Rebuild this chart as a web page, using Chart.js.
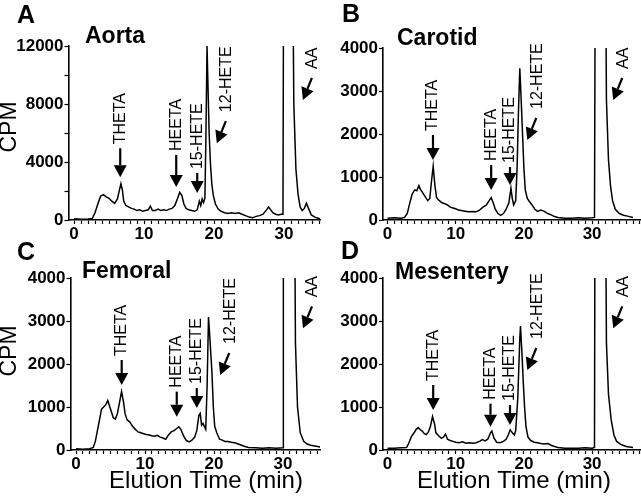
<!DOCTYPE html>
<html>
<head>
<meta charset="utf-8">
<script src="https://cdn.jsdelivr.net/npm/chart.js@4.4.0/dist/chart.umd.min.js"></script>
<style>
  html, body { margin: 0; padding: 0; background: #fff; }
  #wrap { position: relative; width: 641px; height: 500px; overflow: hidden; }
  #wrap canvas { position: absolute; left: 0; top: 0; }
</style>
</head>
<body>
<div id="wrap">
  <canvas id="aorta" width="641" height="500"></canvas>
  <canvas id="carotid" width="641" height="500"></canvas>
  <canvas id="femoral" width="641" height="500"></canvas>
  <canvas id="mesentery" width="641" height="500"></canvas>
</div>
<script>
// Radio-HPLC traces, elution time (min) vs CPM

// A - Aorta
const aortaTime = [0, 1, 2, 2.6, 3.0, 3.4, 3.8, 4.2, 4.6, 5.0, 5.4, 5.8, 6.2, 6.5, 6.7, 6.9, 7.1, 7.4, 7.8, 8.2,
  8.6, 9.0, 9.4, 9.8, 10.2, 10.6, 10.9, 11.2, 11.6, 12.0, 12.4, 12.8, 13.2, 13.6, 14.0, 14.4, 14.8, 15.1, 15.4, 15.7,
  16.0, 16.4, 16.8, 17.2, 17.6, 17.9, 18.1, 18.3, 18.5, 18.7, 18.85, 19.0, 19.15, 19.3, 19.5, 19.7, 19.9, 20.2, 20.6, 21.0,
  21.5, 22.0, 22.5, 23.0, 23.5, 24.0, 24.5, 25.0, 25.5, 26.0, 26.5, 27.0, 27.5, 27.8, 28.1, 28.4, 28.8, 29.2, 29.6, 29.85,
  29.95, 31.2, 31.4, 31.7, 32.0, 32.3, 32.6, 32.9, 33.2, 33.5, 33.9, 34.4, 35.0, 35.5];
const aortaCpm = [80, 60, 70, 100, 500, 1100, 1650, 1750, 1600, 1500, 1300, 1150, 1450, 2100, 2500, 2100, 1300, 1000, 900, 800,
  750, 650, 700, 600, 650, 700, 950, 650, 650, 750, 650, 700, 650, 750, 800, 1000, 1500, 1900, 1700, 1100,
  800, 700, 650, 600, 700, 1300, 1000, 1450, 1200, 1500, 6000, 12000, 9000, 6000, 3800, 2400, 1700, 1100, 750, 600,
  500, 450, 500, 450, 500, 400, 300, 200, 150, 250, 300, 400, 700, 900, 700, 500, 400, 350, 400, 400,
  20000, 20000, 8000, 3500, 1800, 900, 650, 800, 1150, 800, 350, 200, 100, 80];

// B - Carotid
const carotidTime = [0, 1, 2, 2.5, 2.9, 3.2, 3.6, 4.0, 4.3, 4.6, 4.8, 5.1, 5.5, 5.9, 6.2, 6.45, 6.7, 6.95, 7.2, 7.6,
  8.0, 8.4, 8.8, 9.2, 9.6, 10.0, 10.4, 10.8, 11.2, 11.6, 12.0, 12.5, 13.0, 13.5, 14.0, 14.5, 14.9, 15.2, 15.5, 15.8,
  16.2, 16.6, 17.0, 17.4, 17.8, 18.1, 18.3, 18.5, 18.8, 19.0, 19.2, 19.4, 19.6, 19.8, 20.0, 20.2, 20.5, 20.8, 21.2, 21.6,
  22.0, 22.5, 23.0, 23.5, 24.0, 24.5, 25, 26, 27, 28, 29, 30, 30.35, 30.5, 31.9, 32.1, 32.4, 32.7, 33.0, 33.4,
  34.0, 34.6, 35.2, 36.0];
const carotidCpm = [40, 50, 40, 60, 150, 350, 600, 700, 680, 800, 720, 650, 550, 450, 500, 900, 1250, 800, 520, 450,
  400, 380, 350, 300, 280, 260, 230, 220, 210, 200, 190, 200, 190, 230, 300, 350, 450, 520, 400, 250,
  150, 110, 150, 250, 400, 740, 500, 350, 450, 1200, 2500, 3530, 2800, 2000, 1200, 700, 500, 430, 350, 250,
  200, 230, 200, 150, 120, 80, 60, 40, 40, 50, 40, 50, 60, 8000, 8000, 2800, 1400, 800, 450, 250,
  150, 110, 90, 60];

// C - Femoral
const femoralTime = [0, 1, 2, 2.5, 2.8, 3.1, 3.4, 3.7, 4.0, 4.3, 4.6, 4.8, 5.1, 5.4, 5.7, 6.0, 6.3, 6.6, 6.9, 7.1,
  7.4, 7.8, 8.2, 8.6, 9.0, 9.4, 9.8, 10.2, 10.6, 11.0, 11.4, 11.8, 12.2, 12.6, 13.0, 13.4, 13.8, 14.2, 14.6, 14.9,
  15.2, 15.6, 16.0, 16.4, 16.8, 17.2, 17.5, 17.8, 18.0, 18.2, 18.4, 18.6, 18.8, 19.0, 19.2, 19.4, 19.7, 19.9, 20.1, 20.4,
  20.8, 21.2, 21.6, 22.0, 22.5, 23.0, 23.5, 24.0, 24.5, 25, 26, 27, 28, 29, 30, 30.05, 31.6, 31.8, 32.1, 32.5,
  33.0, 33.5, 34.0, 35.0, 35.5];
const femoralCpm = [30, 20, 30, 60, 200, 450, 700, 950, 1000, 1050, 1150, 1050, 900, 750, 720, 850, 1100, 1360, 1100, 850,
  700, 650, 550, 480, 420, 400, 380, 360, 350, 330, 320, 340, 300, 280, 250, 350, 420, 450, 500, 540,
  480, 320, 220, 190, 230, 300, 450, 800, 850, 580, 620, 550, 480, 1500, 3090, 2600, 1800, 1000, 550, 400,
  250, 230, 200, 200, 180, 170, 140, 110, 80, 60, 50, 40, 50, 40, 50, 8000, 8000, 2500, 1000, 400,
  200, 140, 110, 80, 70];

// D - Mesentery
const mesenteryTime = [0, 1, 2, 2.8, 3.1, 3.5, 3.9, 4.2, 4.5, 4.8, 5.1, 5.4, 5.7, 6.0, 6.3, 6.6, 6.9, 7.1, 7.5, 7.9,
  8.2, 8.5, 8.8, 9.2, 9.6, 10.0, 10.5, 11.0, 11.5, 12.0, 12.5, 13.0, 13.5, 13.9, 14.3, 14.7, 15.1, 15.3, 15.6, 16.0,
  16.5, 17.0, 17.4, 17.7, 18.0, 18.3, 18.6, 18.8, 19.1, 19.4, 19.5, 19.7, 19.9, 20.1, 20.3, 20.6, 21.0, 21.5, 22.0, 22.5,
  23.0, 23.5, 24.0, 24.5, 25, 26, 27, 28, 29, 30, 30.35, 30.45, 31.9, 32.1, 32.4, 32.8, 33.2, 33.6, 34.2, 35.0,
  36.0];
const mesenteryCpm = [40, 40, 50, 60, 150, 310, 400, 480, 520, 470, 440, 380, 360, 420, 550, 780, 600, 400, 330, 270,
  300, 370, 250, 220, 200, 180, 170, 190, 160, 170, 160, 170, 200, 240, 210, 250, 400, 440, 280, 180,
  170, 200, 250, 350, 470, 400, 350, 450, 1200, 2600, 2880, 2300, 1600, 1000, 550, 300, 220, 180, 170, 150,
  140, 150, 110, 80, 60, 40, 40, 40, 50, 40, 60, 8000, 8000, 2500, 1300, 700, 350, 200, 130, 80,
  60];

// tick values
const xTickLabels = [0, 10, 20, 30];
const yTicksAorta = [0, 2000, 4000, 6000, 8000, 10000, 12000];
const yLabelsAorta = [0, 4000, 8000, 12000];
const yTicksSmall = [0, 1000, 2000, 3000, 4000];

// peak labels: arrow tip in data units
const aortaPeaks = [
  { label: 'THETA', t: 6.6, v: 2950, len: 29 },
  { label: 'HEETA', t: 14.6, v: 2280, len: 32 },
  { label: '15-HETE', t: 17.6, v: 1860, len: 20 },
  { label: '12-HETE', t: 20.4, v: 5300, diag: true },
  { label: 'AA', t: 32.7, v: 8280, diag: true }
];
const carotidPeaks = [
  { label: 'THETA', t: 6.67, v: 1395, len: 25 },
  { label: 'HEETA', t: 15.2, v: 700, len: 25 },
  { label: '15-HETE', t: 17.96, v: 814, len: 18 },
  { label: '12-HETE', t: 20.5, v: 1860, diag: true },
  { label: 'AA', t: 33.1, v: 2790, diag: true }
];
const femoralPeaks = [
  { label: 'THETA', t: 6.62, v: 1512, len: 25 },
  { label: 'HEETA', t: 14.6, v: 775, len: 25 },
  { label: '15-HETE', t: 17.5, v: 977, len: 20 },
  { label: '12-HETE', t: 20.9, v: 1745, diag: true },
  { label: 'AA', t: 32.9, v: 2830, diag: true }
];
const mesenteryPeaks = [
  { label: 'THETA', t: 6.7, v: 930, len: 25 },
  { label: 'HEETA', t: 15.1, v: 542, len: 23 },
  { label: '15-HETE', t: 17.96, v: 582, len: 20 },
  { label: '12-HETE', t: 20.5, v: 1860, diag: true },
  { label: 'AA', t: 33.1, v: 2830, diag: true }
];

const FONT = "'Liberation Sans', Arial, Helvetica, sans-serif";

function arrow(ctx, x0, y0, x1, y1) {
  const dx = x1 - x0, dy = y1 - y0;
  const d = Math.sqrt(dx * dx + dy * dy);
  const ux = dx / d, uy = dy / d;
  const bx = x1 - ux * 12, by = y1 - uy * 12;
  ctx.lineWidth = 2.2;
  ctx.beginPath();
  ctx.moveTo(x0, y0);
  ctx.lineTo(bx, by);
  ctx.stroke();
  ctx.beginPath();
  ctx.moveTo(x1, y1);
  ctx.lineTo(bx - uy * 6.5, by + ux * 6.5);
  ctx.lineTo(bx + uy * 6.5, by - ux * 6.5);
  ctx.closePath();
  ctx.fill();
}

function vText(ctx, str, x, y, align) {
  ctx.save();
  ctx.translate(x, y);
  ctx.rotate(-Math.PI / 2);
  ctx.textAlign = align;
  ctx.textBaseline = 'middle';
  ctx.fillText(str, 0, 0);
  ctx.restore();
}

// draws panel letter, title, axis titles and the peak arrows
const panelText = {
  id: 'panelText',
  afterDraw(chart, args, o) {
    const ctx = chart.ctx;
    const xs = chart.scales.x, ys = chart.scales.y;
    ctx.save();
    ctx.fillStyle = '#000';
    ctx.strokeStyle = '#000';
    ctx.textBaseline = 'alphabetic';
    ctx.textAlign = 'left';

    ctx.font = 'bold 25px ' + FONT;
    ctx.fillText(o.letter, o.letterPos[0], o.letterPos[1]);
    ctx.font = 'bold 23px ' + FONT;
    ctx.fillText(o.title, o.titlePos[0], o.titlePos[1]);

    if (o.cpmPos) {
      ctx.font = '23px ' + FONT;
      vText(ctx, 'CPM', o.cpmPos[0], o.cpmPos[1], 'center');
    }
    if (o.xTitlePos) {
      ctx.font = '24px ' + FONT;
      ctx.textAlign = 'center';
      ctx.fillText('Elution Time (min)', o.xTitlePos[0], o.xTitlePos[1]);
    }

    ctx.font = '16px ' + FONT;
    o.peaks.forEach(p => {
      const px = xs.getPixelForValue(p.t);
      const py = ys.getPixelForValue(p.v);
      if (p.diag) {
        arrow(ctx, px + 9, py - 22, px, py);
        vText(ctx, p.label, px + 10, py - 31, 'left');
      } else {
        arrow(ctx, px, py - p.len, px, py);
        vText(ctx, p.label, px, py - p.len - 4, 'left');
      }
    });
    ctx.restore();
  }
};

function makePanel(id, time, cpm, cfg) {
  const points = time.map((t, i) => ({ x: t, y: cpm[i] }));
  const xTicks = [];
  for (let t = 0; t <= Math.floor(cfg.xMax); t++) xTicks.push(t);

  return new Chart(document.getElementById(id), {
    type: 'line',
    data: {
      datasets: [{
        data: points,
        borderColor: '#000',
        borderWidth: 1.5,
        pointRadius: 0,
        tension: 0,
        fill: false
      }]
    },
    options: {
      responsive: false,
      animation: false,
      events: [],
      layout: { padding: cfg.padding },
      plugins: {
        legend: { display: false },
        tooltip: { enabled: false },
        panelText: cfg.text
      },
      scales: {
        x: {
          type: 'linear',
          min: cfg.xMin,
          max: cfg.xMax,
          afterFit: s => { s.height = 30; },
          afterBuildTicks: s => { s.ticks = xTicks.map(v => ({ value: v })); },
          ticks: {
            autoSkip: false,
            maxRotation: 0,
            padding: 0,
            color: '#000',
            font: { family: FONT, size: 17, weight: 'bold' },
            callback: v => xTickLabels.includes(v) ? String(v) : ''
          },
          grid: { drawOnChartArea: false, tickLength: 4, color: '#000', tickWidth: 1.2 },
          border: { color: '#000', width: 1.6 }
        },
        y: {
          min: 0,
          max: cfg.yMax,
          afterFit: s => { s.width = 60; },
          afterBuildTicks: s => { s.ticks = cfg.yTicks.map(v => ({ value: v })); },
          ticks: {
            autoSkip: false,
            padding: 1,
            color: '#000',
            font: { family: FONT, size: 17, weight: 'bold' },
            callback: v => cfg.yLabels.includes(v) ? String(v) : ''
          },
          grid: { drawOnChartArea: false, tickLength: 4, color: '#000', tickWidth: 1.2 },
          border: { color: '#000', width: 1.6 }
        }
      }
    },
    plugins: [panelText]
  });
}

makePanel('aorta', aortaTime, aortaCpm, {
  xMin: -0.79, xMax: 35.14, yMax: 12000,
  yTicks: yTicksAorta, yLabels: yLabelsAorta,
  padding: { left: 8.5, top: 46, right: 321, bottom: 250 },
  text: { letter: 'A', letterPos: [17, 23], title: 'Aorta', titlePos: [85, 43], cpmPos: [10, 127], peaks: aortaPeaks }
});

makePanel('carotid', carotidTime, carotidCpm, {
  xMin: -0.66, xMax: 37.17, yMax: 4000,
  yTicks: yTicksSmall, yLabels: yTicksSmall,
  padding: { left: 323, top: 48, right: 0, bottom: 250 },
  text: { letter: 'B', letterPos: [342, 22], title: 'Carotid', titlePos: [397, 45], peaks: carotidPeaks }
});

makePanel('femoral', femoralTime, femoralCpm, {
  xMin: -0.8, xMax: 35.36, yMax: 4000,
  yTicks: yTicksSmall, yLabels: yTicksSmall,
  padding: { left: 10.5, top: 278, right: 321, bottom: 20 },
  text: { letter: 'C', letterPos: [17, 260], title: 'Femoral', titlePos: [82, 278], cpmPos: [10, 351], xTitlePos: [206, 488], peaks: femoralPeaks }
});

makePanel('mesentery', mesenteryTime, mesenteryCpm, {
  xMin: -0.66, xMax: 37.17, yMax: 4000,
  yTicks: yTicksSmall, yLabels: yTicksSmall,
  padding: { left: 323, top: 278, right: 0, bottom: 20 },
  text: { letter: 'D', letterPos: [341, 259], title: 'Mesentery', titlePos: [395, 279], xTitlePos: [514, 488], peaks: mesenteryPeaks }
});
</script>
</body>
</html>
